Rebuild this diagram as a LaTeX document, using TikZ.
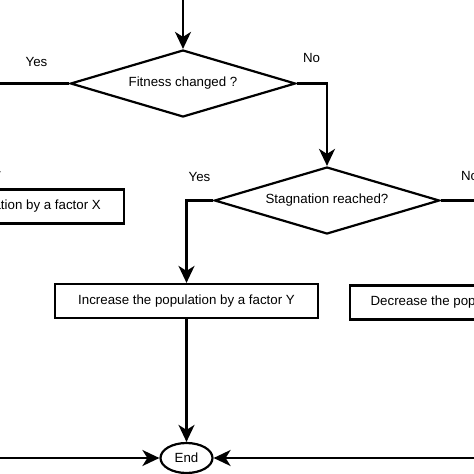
\documentclass[tikz,border=0pt]{standalone}
\usepackage{fontspec}
\setmainfont{Liberation Sans}
\usetikzlibrary{shapes.geometric,arrows.meta}
\tikzset{
  decision/.style={draw, diamond, aspect=3.37, minimum width=225pt, minimum height=67pt, inner sep=0pt},
  factorbox/.style={draw, rectangle, minimum width=263pt, minimum height=34pt, inner sep=0pt},
  endnode/.style={draw, ellipse, minimum width=52pt, minimum height=30pt, inner sep=0pt},
  flow/.style={-{Stealth[length=17pt,width=16pt,inset=5pt]}},
  answer/.style={inner sep=0pt}
}
\begin{document}
\begin{tikzpicture}[x=1pt,y=-1pt,line width=2.2pt,font=\fontsize{13.3}{16}\selectfont]
\useasboundingbox (0,0) rectangle (474,474);
\clip (0,0) rectangle (474,474);

\coordinate (start) at (183,-10);
\node[decision] (fitness) at (183,83.5) {Fitness changed ?};
\node[decision] (stagnation) at (327,200.5) {Stagnation reached?};
\node[factorbox] (factorX) at (-7.5,206.5) {Increase the population by a factor X};
\node[factorbox] (factorY) at (186.5,301) {Increase the population by a factor Y};
\node[factorbox] (factorZ) at (481.5,302.5) {Decrease the population by a factor Z};
\node[endnode] (end) at (186.5,458) {End};
\coordinate (intoZ) at ([xshift=12pt]factorZ.north);

\node[answer] (yes1) at (36.5,62) {Yes};
\node[answer] (no1) at (311.5,58) {No};
\node[answer] (yes2) at (199.5,177) {Yes};
\node[answer] (no2) at (469.5,176) {No};

\draw[flow] (start) -- (fitness.north);
\draw[flow] (fitness.east) -| (stagnation.north);
\draw[flow] (fitness.west) -| (factorX.north);
\draw[flow] (stagnation.west) -| (factorY.north);
\draw[flow] (stagnation.east) -| (intoZ);
\draw[flow] (factorY.south) -- (end.north);
\draw[flow] (factorX.south) |- (end.west);
\draw[flow] (factorZ.south) |- (end.east);
\end{tikzpicture}
\end{document}
